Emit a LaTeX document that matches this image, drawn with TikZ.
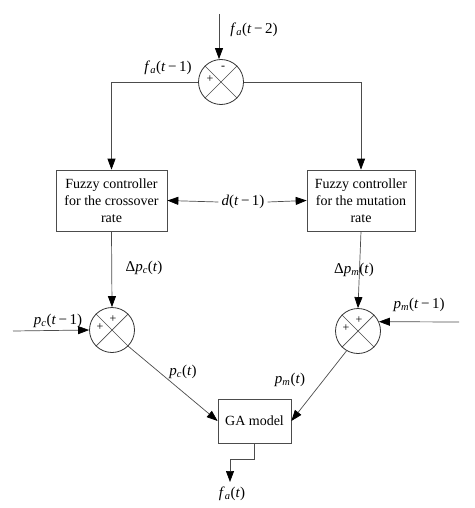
\documentclass[tikz,border=0pt]{standalone}
\usepackage{fontspec}
\setmainfont{Liberation Serif}
\usetikzlibrary{arrows.meta,positioning,calc}
\newcommand{\vsub}[2]{\textit{#1}\textsubscript{\textit{#2}}}
\newcommand{\tm}[1]{(\textit{t}\,−\,#1)}

\begin{document}
\begin{tikzpicture}[x=1pt, y=-1pt,
    every node/.style={font=\fontsize{14}{17}\selectfont},
    ctrl/.style={draw=black!70, line width=0.7pt, align=center,
                 minimum height=61pt, inner sep=2pt},
    sumnode/.style={draw=black!80, line width=0.8pt, circle, minimum size=45pt, inner sep=0pt},
    sgn/.style={font=\fontsize{12}{12}\selectfont, inner sep=0pt},
    lbl/.style={inner sep=0pt, font=\fontsize{15}{17}\selectfont},
    arr/.style={-{Triangle[length=11pt,width=8pt,color=black]}, line width=0.7pt, draw=black!70},
    ln/.style={line width=0.7pt, draw=black!70}
]
  \useasboundingbox (0,0) rectangle (474,508);

  % summing junctions
  \node[sumnode] (sf) at (221,82) {};
  \node[sumnode] (sc) at (112,330) {};
  \node[sumnode] (sm) at (358,331) {};
  \foreach \s in {sf,sc,sm}{
    \draw[ln] (\s.north west) -- (\s.south east);
    \draw[ln] (\s.north east) -- (\s.south west);
  }
  \node[sgn] at ($(sf)+(2,-14)$) {-};
  \node[sgn] at ($(sf)+(-11,-3)$) {+};
  \node[sgn] at ($(sc)+(1,-11)$) {+};
  \node[sgn] at ($(sc)+(-12,-3)$) {+};
  \node[sgn] at ($(sm)+(1,-11)$) {+};
  \node[sgn] at ($(sm)+(-12,-3)$) {+};

  % controllers and GA
  \node[ctrl, minimum width=111pt] (fc) at (111.5,200.5) {Fuzzy controller\\for the crossover\\rate};
  \node[ctrl, minimum width=108pt] (fm) at (361,200.5) {Fuzzy controller\\for the mutation\\rate};
  \node[ctrl, minimum width=73pt, minimum height=44pt] (ga) at (254.5,421) {GA model};

  % free ends
  \coordinate (fin) at (219,14);
  \coordinate (pcin) at (13,331);
  \coordinate (pmin) at (459,322);
  \coordinate (gout) at (230,482);
  \node[lbl, inner xsep=3pt] (d) at (243,202) {\textit{d}\tm{1}};

  \draw[arr] (fin) -- (fin |- sf.north);
  \draw[arr] (sf.west) -| (fc.north);
  \draw[arr] (sf.east) -| (fm.north);
  \draw[arr] (d.west) -- (fc.east);
  \draw[arr] (d.east) -- (fm.west);
  \draw[arr] (fc.south) -- (sc.north);
  \draw[arr] (fm.south) -- (sm.north);
  \draw[arr] (pcin) -- (sc.west);
  \draw[arr] (pmin) -- (sm.24);
  \draw[arr] (sc.south east) -- (ga.west);
  \draw[arr] (sm.240) -- (ga.east);
  \draw[arr] (ga.south) -- ++(0,16) -| (gout);

  % labels
  \node[lbl] at (254,30) {\vsub{f}{a}\tm{2}};
  \node[lbl] at (168,68) {\vsub{f}{a}\tm{1}};
  \node[lbl] at (144,268) {Δ\vsub{p}{c}(\textit{t})};
  \node[lbl] at (354,270) {Δ\vsub{p}{m}(\textit{t})};
  \node[lbl] at (58,321) {\vsub{p}{c}\tm{1}};
  \node[lbl] at (419,305) {\vsub{p}{m}\tm{1}};
  \node[lbl] at (183,372) {\vsub{p}{c}(\textit{t})};
  \node[lbl] at (290,380) {\vsub{p}{m}(\textit{t})};
  \node[lbl] at (232,494) {\vsub{f}{a}(\textit{t})};
\end{tikzpicture}
\end{document}
